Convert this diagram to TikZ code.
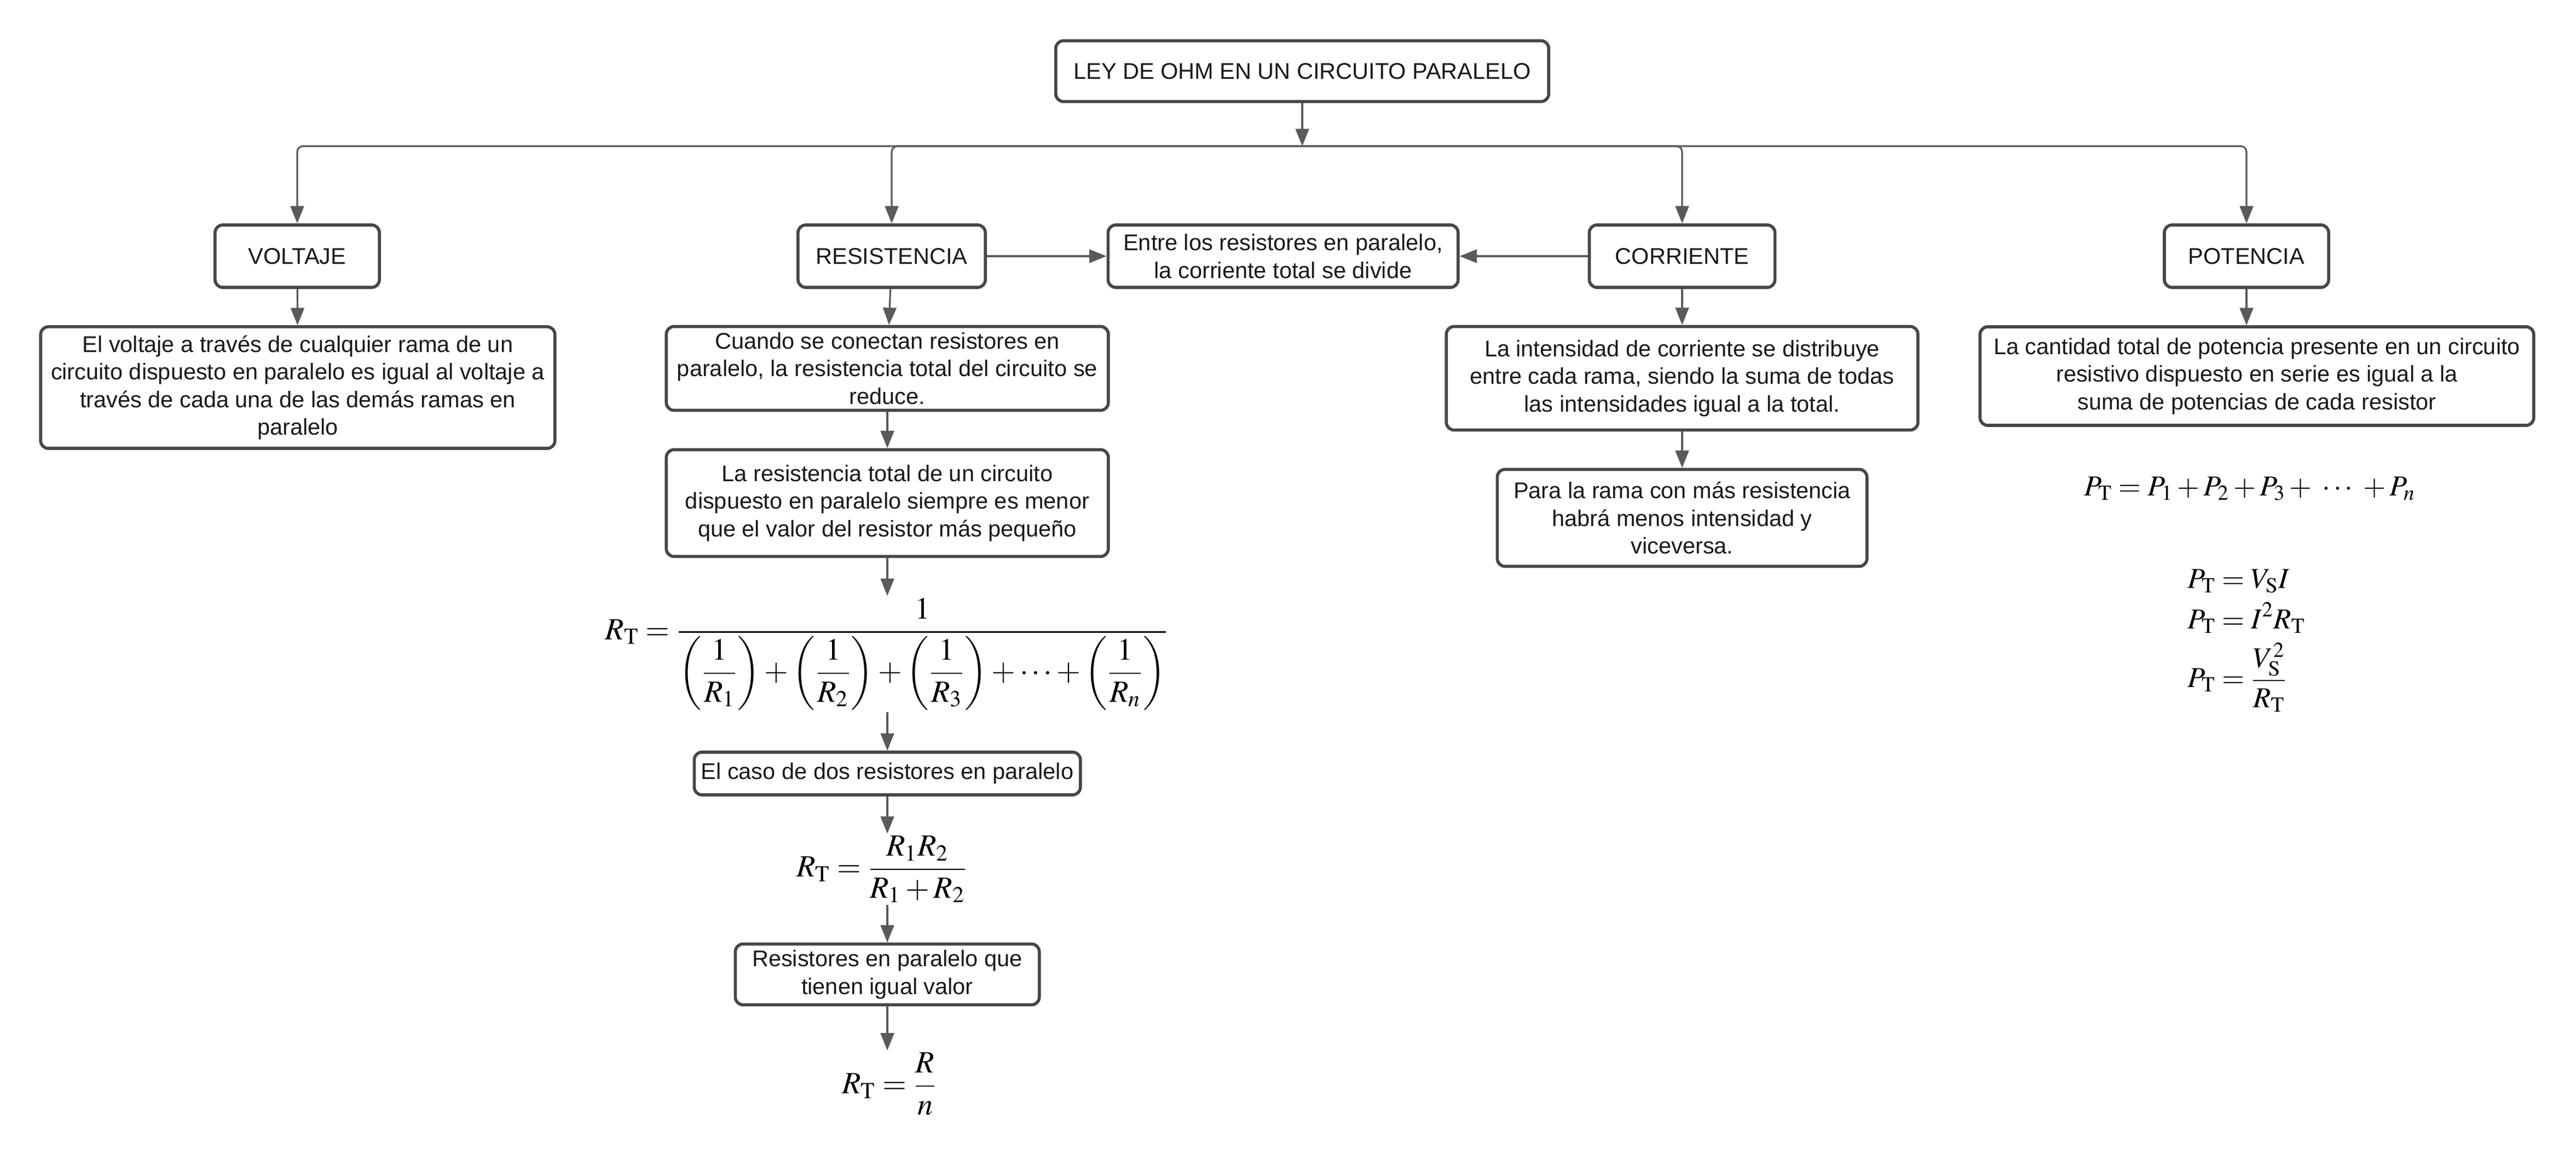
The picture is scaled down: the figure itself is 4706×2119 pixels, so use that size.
\documentclass[tikz,border=0pt]{standalone}
\usepackage{amsmath}
\usepackage{mathptmx}
\usepackage{fontspec}
\setmainfont{Liberation Sans}
\usetikzlibrary{arrows.meta}
\definecolor{bx}{HTML}{474747}
\definecolor{ln}{HTML}{5A5A5A}
\begin{document}
\begin{tikzpicture}[x=0.01cm,y=-0.01cm,
  box/.style={draw=bx,line width=1.6pt,rounded corners=4pt,align=center,inner sep=2pt,font=\fontsize{11.8}{14.4}\selectfont,text=black!90},
  eq/.style={inner sep=1pt,font=\fontsize{13}{16}\selectfont},
  con/.style={draw=ln,line width=0.9pt,-{Triangle[length=9pt,width=7pt]}}]
\useasboundingbox (0,0) rectangle (4706,2119);
\node[box,minimum width=9cm,minimum height=1.11cm] (t) at (2379,130) {LEY DE OHM EN UN CIRCUITO PARALELO};
\node[box,minimum width=3cm,minimum height=1.14cm] (v) at (543,468) {VOLTAJE};
\node[box,minimum width=3.42cm,minimum height=1.14cm] (r) at (1629,468) {RESISTENCIA};
\node[box,minimum width=6.39cm,minimum height=1.14cm] (e) at (2344,468) {Entre los resistores en paralelo,\\la corriente total se divide};
\node[box,minimum width=3.39cm,minimum height=1.14cm] (c) at (3073,468) {CORRIENTE};
\node[box,minimum width=3cm,minimum height=1.14cm] (p) at (4104,468) {POTENCIA};
\node[box,minimum width=9.39cm,minimum height=2.22cm] (v1) at (544,708) {El voltaje a través de cualquier rama de un\\circuito dispuesto en paralelo es igual al voltaje a\\través de cada una de las demás ramas en\\paralelo};
\node[box,minimum width=8.07cm,minimum height=1.53cm] (r1) at (1621,673) {Cuando se conectan resistores en\\paralelo, la resistencia total del circuito se\\reduce.};
\node[box,minimum width=8.07cm,minimum height=1.95cm] (r2) at (1621,919) {La resistencia total de un circuito\\dispuesto en paralelo siempre es menor\\que el valor del resistor más pequeño};
\node[eq,font=\fontsize{16}{19}\selectfont] (f1) at (1620,1195) {$R_{\mathrm T}=\dfrac{1}{\left(\dfrac{1}{R_1}\right)+\left(\dfrac{1}{R_2}\right)+\left(\dfrac{1}{R_3}\right)+\cdots+\left(\dfrac{1}{R_n}\right)}$};
\node[box,minimum width=7.05cm,minimum height=0.78cm] (r3) at (1621,1413) {El caso de dos resistores en paralelo};
\node[eq,font=\fontsize{16}{19}\selectfont] (f2) at (1611,1588) {$R_{\mathrm T}=\dfrac{R_1R_2}{R_1+R_2}$};
\node[box,minimum width=5.55cm,minimum height=1.11cm] (r4) at (1621,1780) {Resistores en paralelo que\\tienen igual valor};
\node[eq,font=\fontsize{16}{19}\selectfont] (f3) at (1625,1980) {$R_{\mathrm T}=\dfrac{R}{n}$};
\node[box,minimum width=8.61cm,minimum height=1.89cm] (c1) at (3073,691) {La intensidad de corriente se distribuye\\entre cada rama, siendo la suma de todas\\las intensidades igual a la total.};
\node[box,minimum width=6.75cm,minimum height=1.77cm] (c2) at (3073,946) {Para la rama con más resistencia\\habrá menos intensidad y\\viceversa.};
\node[box,minimum width=10.11cm,minimum height=1.8cm] (p1) at (4123,687) {La cantidad total de potencia presente en un circuito\\resistivo dispuesto en serie es igual a la\\suma de potencias de cada resistor};
\node[eq,font=\fontsize{15}{18}\selectfont] (pf1) at (4110,893) {$P_{\mathrm T}=P_1+P_2+P_3+\;\cdots\;+P_n$};
\node[eq,font=\fontsize{15}{18}\selectfont] (pf2) at (4104,1165) {$\begin{aligned}P_{\mathrm T}&=V_{\mathrm S}I\\[-2pt] P_{\mathrm T}&=I^2R_{\mathrm T}\\[-2pt] P_{\mathrm T}&=\dfrac{V_{\mathrm S}^2}{R_{\mathrm T}}\end{aligned}$};
\coordinate (bus) at (2379,267);
\draw[con] (t) -- (bus);
\draw[con,rounded corners=3pt] (bus) -| (v);
\draw[con,rounded corners=3pt] (bus) -| (r);
\draw[con,rounded corners=3pt] (bus) -| (c);
\draw[con,rounded corners=3pt] (bus) -| (p);
\draw[con] (r) -- (e);
\draw[con] (c) -- (e);
\draw[con] (v) -- (v1);
\draw[con] (r) -- (r1);
\draw[con] (r1) -- (r2);
\draw[con] (r2.south) -- (f1.north-|r2.south);
\draw[con] (f1.south-|r3.north) -- (r3.north);
\draw[con] (r3) -- (f2.north-|r3);
\draw[con] (f2.south-|r4) -- (r4);
\draw[con] (r4) -- (f3.north-|r4);
\draw[con] (c) -- (c1);
\draw[con] (c1) -- (c2);
\draw[con] (p) -- (p1.north-|p);
\end{tikzpicture}
\end{document}
